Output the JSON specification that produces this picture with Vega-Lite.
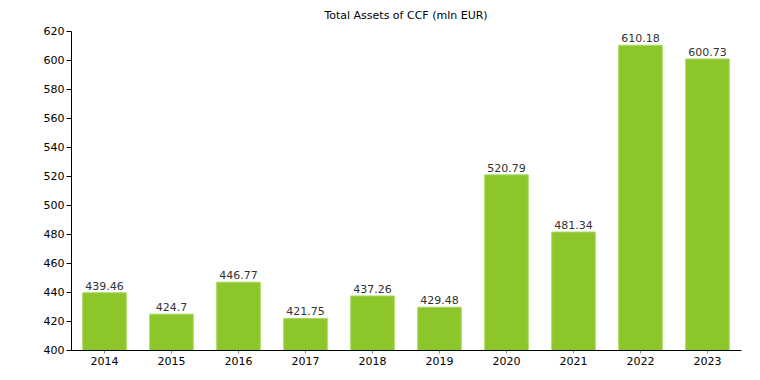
{
  "$schema": "https://vega.github.io/schema/vega-lite/v6.json",
  "width": 670,
  "height": 319,
  "autosize": "none",
  "padding": {"left": 71, "top": 31, "right": 19, "bottom": 30},
  "background": "white",
  "title": {"text": "Total Assets of CCF (mln EUR)", "font": "DejaVu Sans", "fontSize": 11, "fontWeight": "normal", "color": "#000", "offset": 4},
  "data": {"values": [
    {"year": "2014", "value": 439.46},
    {"year": "2015", "value": 424.7},
    {"year": "2016", "value": 446.77},
    {"year": "2017", "value": 421.75},
    {"year": "2018", "value": 437.26},
    {"year": "2019", "value": 429.48},
    {"year": "2020", "value": 520.79},
    {"year": "2021", "value": 481.34},
    {"year": "2022", "value": 610.18},
    {"year": "2023", "value": 600.73}
  ]},
  "encoding": {
    "x": {"field": "year", "type": "ordinal", "title": null,
      "scale": {"paddingInner": 0.35, "paddingOuter": 0.175},
      "axis": {"labelAngle": 0, "labelFont": "DejaVu Sans", "labelFontSize": 11, "labelColor": "#000", "domainColor": "#000", "tickColor": "#888", "tickSize": 3, "labelPadding": 2}},
    "y": {"field": "value", "type": "quantitative", "title": null,
      "scale": {"domain": [400, 620], "nice": false, "zero": false},
      "axis": {"values": [400,420,440,460,480,500,520,540,560,580,600,620], "grid": false, "labelFont": "DejaVu Sans", "labelFontSize": 11, "labelColor": "#000", "domainColor": "#000", "tickColor": "#000", "tickSize": 5, "labelPadding": 2}}
  },
  "layer": [
    {"mark": {"type": "bar", "color": "#8cc62a", "stroke": "#a8d862", "strokeWidth": 1, "clip": true}},
    {"mark": {"type": "text", "baseline": "bottom", "dy": -1, "font": "DejaVu Sans", "fontSize": 11, "color": "#333"},
     "encoding": {"text": {"field": "value", "type": "quantitative"}}}
  ],
  "config": {"view": {"stroke": null}}
}
